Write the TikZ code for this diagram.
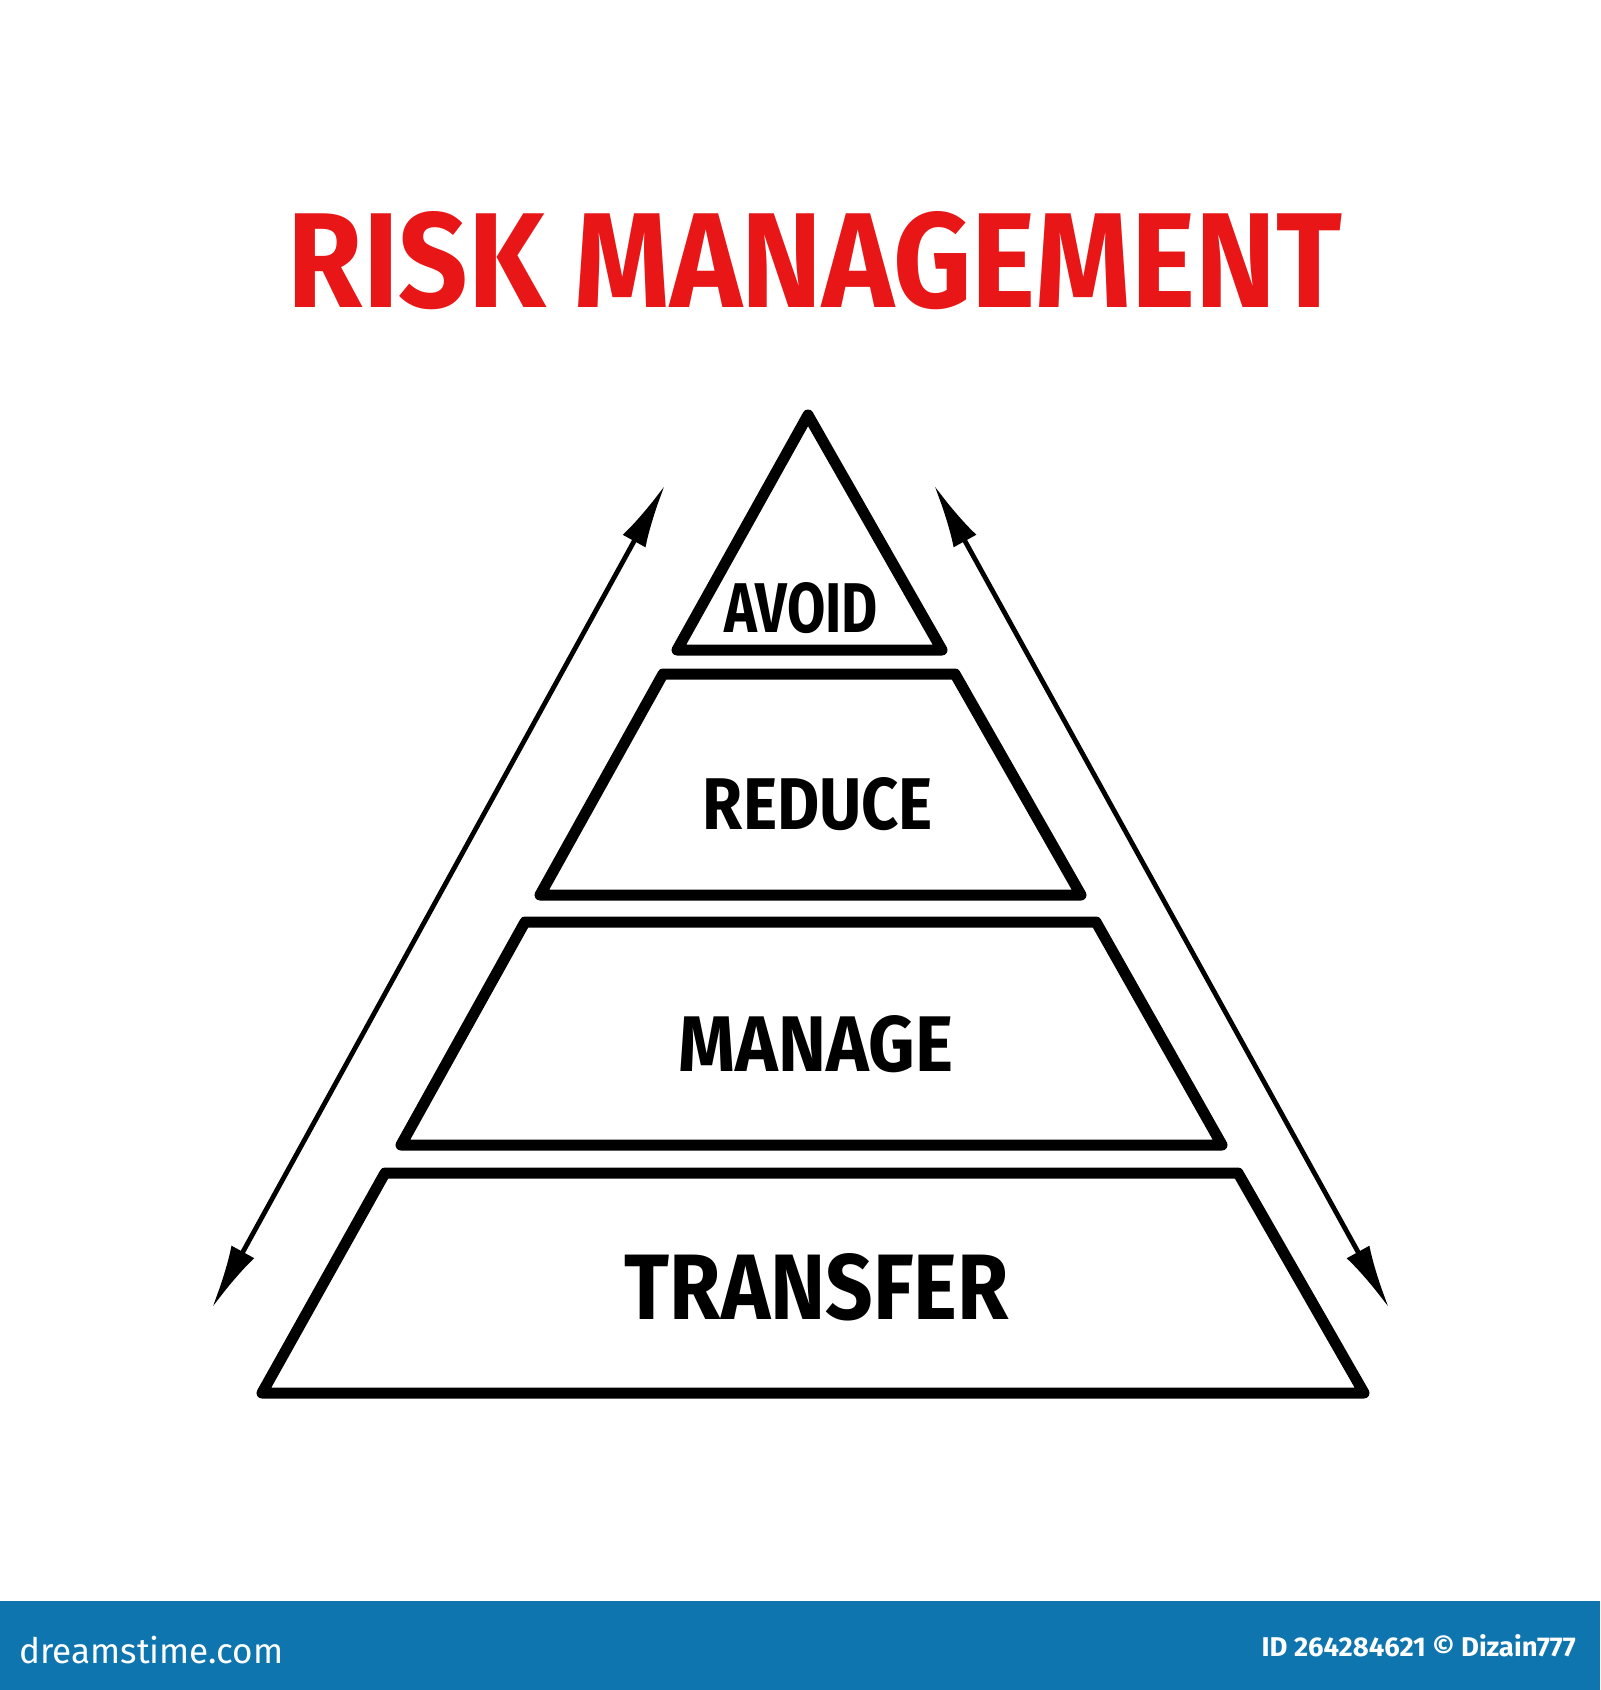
\documentclass[tikz,border=0pt]{standalone}
\usepackage{fontspec}
\setmainfont{Fira Sans}
\usetikzlibrary{arrows.meta}
\definecolor{titlered}{RGB}{232,22,22}
\definecolor{barblue}{RGB}{15,117,174}
\tikzset{
  band/.style={draw=black, line width=5.5pt, line join=round},
  sidearrow/.style={line width=2.4pt, {Latex[length=32pt,width=13pt]}-{Latex[length=32pt,width=13pt]}},
  lbl/.style={inner sep=0pt, text=black},
}
\begin{document}
\begin{tikzpicture}[x=0.5pt,y=-0.5pt]
\useasboundingbox (0,0) rectangle (1600,1690);
\fill[white] (0,0) rectangle (1600,1690);
\fill[barblue] (0,1601) rectangle (1600,1690);

% title
\node[inner sep=0pt, text=titlered] (title) at (815,261)
  {\resizebox{527pt}{48pt}{\bfseries RISK MANAGEMENT}};

% pyramid bands
\draw[band] (808,415) -- (677,650) -- (942,650) -- cycle;
\draw[band] (663,674) -- (955,674) -- (1081,895) -- (540,895) -- cycle;
\draw[band] (525,922) -- (1096,922) -- (1222,1145) -- (401,1145) -- cycle;
\draw[band] (385,1173) -- (1238,1173) -- (1364,1393) -- (262,1393) -- cycle;

% labels
\node[lbl] (avoid) at (801,608) {\resizebox{77pt}{25pt}{\bfseries AVOID}};
\node[lbl] (reduce) at (818,804) {\resizebox{115pt}{26pt}{\bfseries REDUCE}};
\node[lbl] (manage) at (816,1044) {\resizebox{137pt}{28pt}{\bfseries MANAGE}};
\node[lbl] (transfer) at (817,1287) {\resizebox{192pt}{33pt}{\bfseries TRANSFER}};

% side arrows
\coordinate (lt) at (665,485);
\coordinate (lb) at (212,1308);
\coordinate (rt) at (934,485);
\coordinate (rb) at (1389,1308);
\draw[sidearrow] (lt) -- (lb);
\draw[sidearrow] (rt) -- (rb);

% footer
\node[inner sep=0pt, anchor=west, text=white] (site) at (19,1650)
  {\resizebox{132pt}{!}{dreamstime.com}};
\node[inner sep=0pt, anchor=east, text=white] (credit) at (1576,1646)
  {\resizebox{157pt}{11pt}{\bfseries ID 264284621 © Dizain777}};
\end{tikzpicture}
\end{document}
